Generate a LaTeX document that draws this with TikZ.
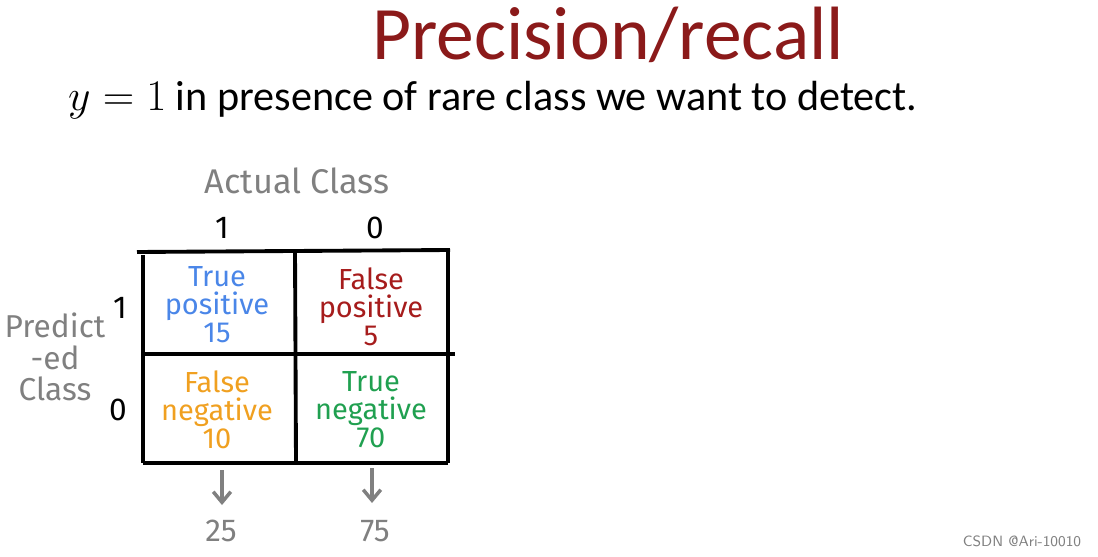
\documentclass[tikz,border=0pt]{standalone}
\usetikzlibrary{arrows.meta}
\usepackage{fontspec}
\setmainfont{Carlito}
\newfontfamily\hand{Fira Sans}
\definecolor{tred}{HTML}{8B1A1A}
\definecolor{hgray}{HTML}{808080}
\definecolor{tpblue}{HTML}{4A86E8}
\definecolor{fpred}{HTML}{A61C1C}
\definecolor{fnorange}{HTML}{F0A020}
\definecolor{tngreen}{HTML}{20A050}
\begin{document}
\begin{tikzpicture}[x=0.02cm,y=-0.02cm,
  grid/.style={line width=2.2pt,black},
  hw/.style={font=\hand\fontsize{18}{20}\selectfont,align=center},
  cell/.style={hw,font=\hand\fontsize{16.5}{16}\selectfont},
  garrow/.style={line width=2pt,hgray,-{Straight Barb[length=6pt,width=10pt]}}]
\useasboundingbox (0,0) rectangle (1098,557);
\node (title) at (608,35) {\color{tred}\fontsize{43}{46}\selectfont Precision/recall};
\node[anchor=west] (sub) at (62,100) {\fontsize{24}{26}\selectfont $y=1$ in presence of rare class we want to detect.};
\node[hw,text=hgray,font=\hand\fontsize{19.5}{21}\selectfont] (actual) at (297,181) {Actual Class};
\node[hw] (c1) at (222,228) {1};
\node[hw] (c0) at (375,228) {0};
\node[hw] (r1) at (120,308) {1};
\node[hw] (r0) at (118,410) {0};
\node[hw,text=hgray,font=\hand\fontsize{18}{18}\selectfont] (pred) at (55,357) {Predict\\-ed\\Class};
\coordinate (tl) at (137,252); \coordinate (tr) at (450,250);
\coordinate (bl) at (143,463); \coordinate (br) at (448,463);
\draw[grid] (tl) -- (tr);
\draw[grid] (143,255) -- (bl);
\draw[grid] (bl) -- (br);
\draw[grid] (448,248) -- (br);
\draw[grid] (295,250) -- (296,463);
\draw[grid] (143,354) -- (455,354);
\node[cell,text=tpblue] (tp) at (217,305) {True\\positive\\15};
\node[cell,text=fpred] (fp) at (371,307) {False\\positive\\5};
\node[cell,text=fnorange] (fn) at (217,410) {False\\negative\\10};
\node[cell,text=tngreen] (tn) at (371,410) {True\\negative\\70};
\node[hw,text=hgray] (s25) at (221,531) {25};
\node[hw,text=hgray] (s75) at (375,531) {75};
\coordinate (a1) at (222,470); \coordinate (a2) at (372,468);
\draw[garrow] (a1) -- (222,505);
\draw[garrow] (a2) -- (372,503);
\node[text=hgray,font=\fontsize{8.5}{9}\selectfont\sffamily] (csdn) at (1022,541) {CSDN @Ari-10010};
\end{tikzpicture}
\end{document}
